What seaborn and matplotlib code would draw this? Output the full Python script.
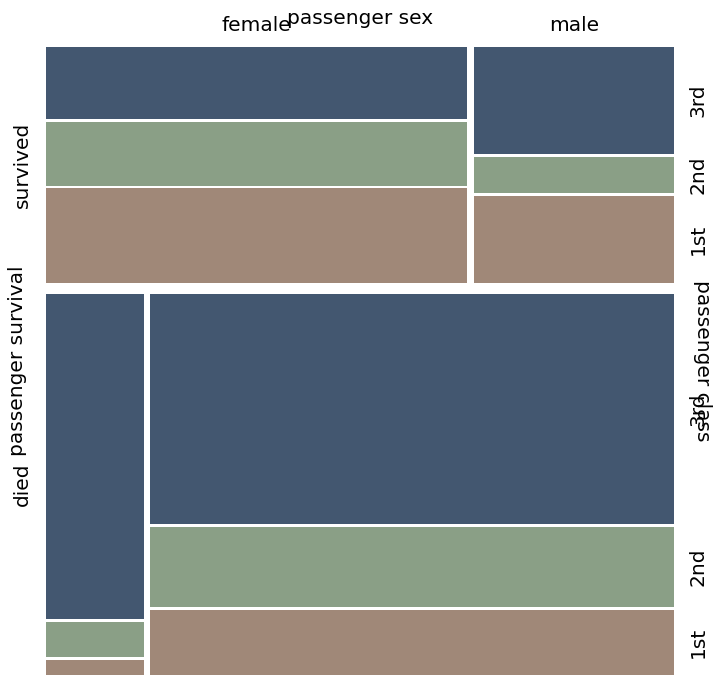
import matplotlib
matplotlib.use("Agg")
import matplotlib.pyplot as plt
import seaborn as sns

## titanic counts (1st, 2nd, 3rd)
classes = ["1st", "2nd", "3rd"]
sexes = ["female", "male"]
survival = ["survived", "died"]
survived_female = [139, 94, 106]
survived_male = [61, 25, 75]
died_female = [5, 12, 110]
died_male = [118, 146, 418]

counts = {
    "survived": [survived_female, survived_male],
    "died": [died_female, died_male],
}
class_colors = ["#a08878", "#8a9f86", "#435770"]

sns.set_theme(style="white")
plt.rcParams["font.family"] = ["DejaVu Sans"]
plt.rcParams["text.color"] = "black"

fig = plt.figure(figsize=(7.2, 6.88), dpi=100)
ax = fig.add_axes([46 / 720, 13 / 688, 628 / 720, 628 / 688])
ax.set_xlim(0, 1)
ax.set_ylim(0, 1)
ax.axis("off")

row_gap = 0.0175
col_gap = {"survived": 0.011, "died": 0.0096}
cls_gap = 0.0045
fs = 14.5

totals = {k: sum(sum(c) for c in v) for k, v in counts.items()}
grand = sum(totals.values())
h_avail = 1 - row_gap
row_h = {k: h_avail * totals[k] / grand for k in survival}
row_y = {"died": 0.0, "survived": row_h["died"] + row_gap}

for s in survival:
    cells = counts[s]
    w_avail = 1 - col_gap[s]
    x = 0.0
    for ci, cell in enumerate(cells):
        w = w_avail * sum(cell) / totals[s]
        seg_avail = row_h[s] - cls_gap * (len(cell) - 1)
        y = row_y[s]
        for k, n in enumerate(cell):
            h = seg_avail * n / sum(cell)
            ax.bar(x, h, width=w, bottom=y, align="edge",
                   color=class_colors[k], linewidth=0)
            # class labels on the right, from the last column
            if ci == len(cells) - 1:
                ax.text(1.038, y + h / 2, classes[k], rotation=90,
                        ha="center", va="center", fontsize=fs, clip_on=False)
            y += h + cls_gap
        # sex labels on top from the survived row
        if s == "survived":
            ax.text(x + w / 2, 1.035, sexes[ci], ha="center", va="center",
                    fontsize=fs, clip_on=False)
        x += w + col_gap[s]
    ax.text(-0.038, row_y[s] + row_h[s] / 2, s, rotation=90,
            ha="center", va="center", fontsize=fs, clip_on=False)

ax.text(0.5, 1.046, "passenger sex", ha="center", va="center",
        fontsize=fs, clip_on=False)
ax.text(-0.046, 0.5, "passenger survival", rotation=90, ha="center",
        va="center", fontsize=fs, clip_on=False)
ax.text(1.045, 0.5, "passenger class", rotation=270, ha="center",
        va="center", fontsize=fs, clip_on=False)

fig.savefig("out.png", dpi=100)
